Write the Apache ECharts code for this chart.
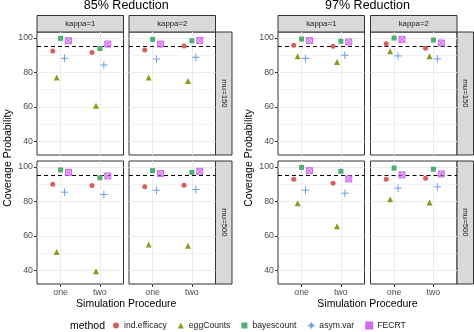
<!DOCTYPE html>
<html>
<head>
<meta charset="utf-8">
<script src="https://cdn.jsdelivr.net/npm/echarts@6/dist/echarts.min.js"></script>
<style>html,body{margin:0;padding:0;background:#fff}#c{width:474px;height:332px}</style>
</head>
<body>
<div id="c"></div>
<script>
// ---- data ----
const methods = ['ind.efficacy', 'eggCounts', 'bayescount', 'asym.var', 'FECRT'];
const procedures = ['one', 'two'];
const kappas = ['kappa=1', 'kappa=2'];
const mus = ['mu=150', 'mu=500'];
const reductions = ['85% Reduction', '97% Reduction'];
const yTicks = [40, 60, 80, 100];
const nominal = 95;
// each array: rows = methods, columns = procedures (one, two)
const r85_k1_mu150 = [[92.4, 91.6], [77.0, 60.6], [99.8, 93.9], [88.2, 84.3], [98.4, 96.5]];
const r85_k2_mu150 = [[93.1, 95.3], [77.0, 75.0], [99.2, 98.4], [87.8, 88.8], [96.5, 98.6]];
const r85_k1_mu500 = [[90.0, 89.2], [50.6, 39.4], [98.3, 93.8], [85.4, 84.0], [96.9, 94.8]];
const r85_k2_mu500 = [[88.5, 89.4], [55.0, 54.2], [97.9, 96.9], [86.5, 86.9], [96.2, 97.5]];
const r97_k1_mu150 = [[95.8, 95.2], [89.4, 86.0], [99.4, 98.1], [88.1, 90.0], [98.5, 97.7]];
const r97_k2_mu150 = [[96.7, 94.0], [92.3, 89.4], [100.0, 98.8], [89.6, 87.9], [99.2, 97.1]];
const r97_k1_mu500 = [[92.9, 90.6], [79.0, 65.6], [99.8, 97.5], [86.5, 84.8], [97.9, 93.1]];
const r97_k2_mu500 = [[92.9, 93.5], [81.2, 79.4], [99.4, 98.7], [87.7, 88.5], [95.4, 96.0]];

const panels = [
  [[r85_k1_mu150, r85_k2_mu150], [r85_k1_mu500, r85_k2_mu500]],
  [[r97_k1_mu150, r97_k2_mu150], [r97_k1_mu500, r97_k2_mu500]]
];

// ---- style ----
const colors = ['#D95F5A', '#8E9A1E', '#4DAF73', '#6C9FE6', '#CC66EE'];
const symbols = ['circle', 'triangle', 'rect', 'path://M5,0L5,10M0,5L10,5', 'path://M0,0L10,0L10,10L0,10ZM0,0L10,10M10,0L0,10'];
const sizes = [5, 6, 5, 7.5, 6];
const dodge = [-0.2, -0.1, 0, 0.1, 0.2];
const FONT = '"Liberation Sans", Arial, sans-serif';

const colLeft = [[37, 129], [278, 370.5]];
const colW = 86.5;
const rowTop = [32, 161];
const rowH = 123;
const stripW = 16.5;
const stripH = 16.5;

const grids = [], xAxes = [], yAxes = [], series = [], graphics = [];
let g = 0;
for (let p = 0; p < 2; p++) {
  for (let r = 0; r < 2; r++) {
    for (let c = 0; c < 2; c++) {
      const left = colLeft[p][c], top = rowTop[r];
      grids.push({left: left, top: top, width: colW, height: rowH, show: true,
        backgroundColor: '#fff', borderColor: '#333', borderWidth: 1, containLabel: false});
      const bottom = r === 1;
      xAxes.push({type: 'value', gridIndex: g, min: 0.4, max: 2.6,
        axisLine: {show: false}, splitLine: {show: false},
        axisTick: {show: bottom, customValues: [1, 2], length: 3, lineStyle: {color: '#333'}},
        axisLabel: {show: bottom, customValues: [1, 2], margin: 4, color: '#4D4D4D', fontSize: 8.8, fontFamily: FONT,
          formatter: v => procedures[Math.round(v) - 1]}});
      const leftCol = c === 0;
      yAxes.push({type: 'value', gridIndex: g, min: 32, max: 103.5,
        axisLine: {show: false}, splitLine: {show: false},
        axisTick: {show: leftCol, customValues: yTicks, length: 3, lineStyle: {color: '#333'}},
        axisLabel: {show: leftCol, customValues: yTicks, margin: 4, color: '#4D4D4D', fontSize: 8.8, fontFamily: FONT}});
      // grid lines + reference line
      const hl = [];
      for (let v = 40; v <= 100; v += 10) hl.push({yAxis: v, lineStyle: {color: '#EBEBEB', width: v % 20 === 0 ? 1 : 0.6, type: 'solid'}});
      series.push({type: 'line', name: 'gridlines', xAxisIndex: g, yAxisIndex: g, data: [], z: 1, silent: true,
        markLine: {silent: true, symbol: 'none', label: {show: false}, animation: false,
          data: hl.concat([{xAxis: 1, lineStyle: {color: '#EBEBEB', width: 1, type: 'solid'}},
                           {xAxis: 2, lineStyle: {color: '#EBEBEB', width: 1, type: 'solid'}}])}});
      series.push({type: 'line', name: 'nominal', xAxisIndex: g, yAxisIndex: g, data: [], z: 2, silent: true,
        markLine: {silent: true, symbol: 'none', label: {show: false}, animation: false,
          data: [{yAxis: nominal, lineStyle: {color: '#000', width: 1.2, type: [4, 3]}}]}});
      const vals = panels[p][r][c];
      methods.forEach((m, k) => {
        const isPath = k >= 3;
        series.push({type: 'scatter', name: m, xAxisIndex: g, yAxisIndex: g, z: 5,
          symbol: symbols[k], symbolSize: sizes[k],
          itemStyle: isPath ? {color: k === 3 ? 'rgba(0,0,0,0)' : 'rgba(204,102,238,0.45)', borderColor: colors[k], borderWidth: 1, opacity: 1}
                            : {color: colors[k], opacity: 1},
          data: procedures.map((pr, i) => [i + 1 + dodge[k], vals[k][i]])});
      });
      g++;
    }
    // right strip
    const sx = colLeft[p][1] + colW;
    graphics.push({type: 'rect', shape: {x: sx, y: rowTop[r], width: stripW, height: rowH},
      style: {fill: '#D9D9D9', stroke: '#333', lineWidth: 1}});
    graphics.push({type: 'text', x: sx + stripW / 2, y: rowTop[r] + rowH / 2, rotation: -Math.PI / 2,
      style: {text: mus[r], fill: '#1A1A1A', font: '7.8px ' + FONT, align: 'center', verticalAlign: 'middle'}});
  }
  // top strips
  for (let c = 0; c < 2; c++) {
    graphics.push({type: 'rect', shape: {x: colLeft[p][c], y: rowTop[0] - stripH, width: colW, height: stripH},
      style: {fill: '#D9D9D9', stroke: '#333', lineWidth: 1}});
    graphics.push({type: 'text', x: colLeft[p][c] + colW / 2, y: rowTop[0] - stripH / 2,
      style: {text: kappas[c], fill: '#1A1A1A', font: '7.8px ' + FONT, align: 'center', verticalAlign: 'middle'}});
  }
  const cx = (colLeft[p][0] + colLeft[p][1] + colW) / 2;
  graphics.push({type: 'text', x: cx, y: 6, style: {text: reductions[p], fill: '#000', font: '12.5px ' + FONT, align: 'center', verticalAlign: 'middle'}});
  graphics.push({type: 'text', x: cx, y: 304, style: {text: 'Simulation Procedure', fill: '#000', font: '10.5px ' + FONT, align: 'center', verticalAlign: 'middle'}});
  graphics.push({type: 'text', x: colLeft[p][0] - 29, y: (rowTop[0] + rowTop[1] + rowH) / 2, rotation: Math.PI / 2,
    style: {text: 'Coverage Probability', fill: '#000', font: '10.5px ' + FONT, align: 'center', verticalAlign: 'middle'}});
}
graphics.push({type: 'text', x: 70, y: 326, style: {text: 'method', fill: '#000', font: '10.5px ' + FONT, align: 'left', verticalAlign: 'middle'}});

const chart = echarts.init(document.getElementById('c'), null, {renderer: 'canvas'});
chart.setOption({
  animation: false,
  backgroundColor: '#fff',
  grid: grids, xAxis: xAxes, yAxis: yAxes, series: series,
  legend: {data: methods, left: 113, top: 321, itemWidth: 6, itemHeight: 6, itemGap: 11,
    textStyle: {fontSize: 8.6, color: '#1A1A1A', fontFamily: FONT}, padding: 0},
  graphic: graphics
});
</script>
</body>
</html>
